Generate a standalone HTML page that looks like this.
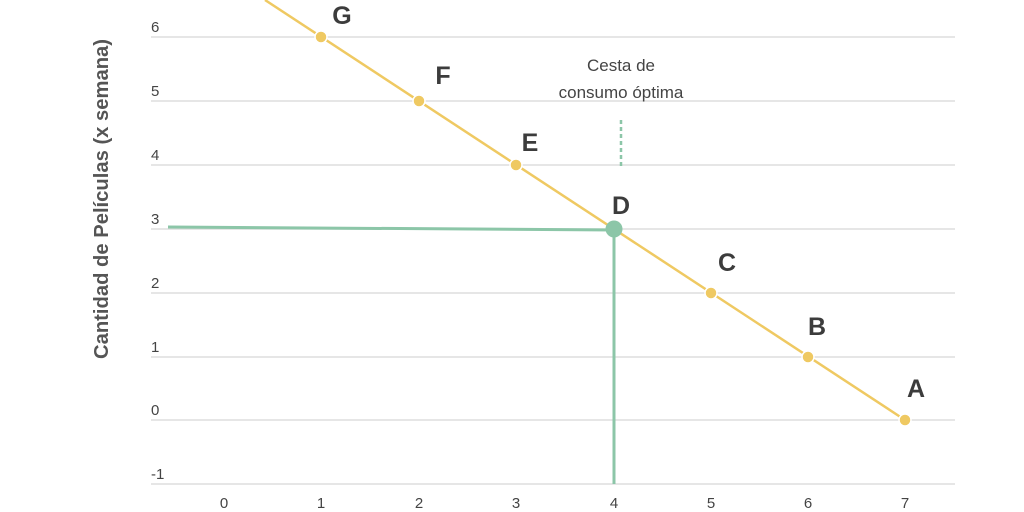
<!DOCTYPE html>
<html><head><meta charset="utf-8"><style>
body{margin:0;background:#fff;}
svg{display:block;font-family:"Liberation Sans",sans-serif;}
</style></head><body>
<svg width="1024" height="512" viewBox="0 0 1024 512">
<g stroke="#dddddd" stroke-width="1.5">
<line x1="151" y1="37" x2="955" y2="37"/>
<line x1="151" y1="101" x2="955" y2="101"/>
<line x1="151" y1="165" x2="955" y2="165"/>
<line x1="151" y1="229" x2="955" y2="229"/>
<line x1="151" y1="293" x2="955" y2="293"/>
<line x1="151" y1="357" x2="955" y2="357"/>
<line x1="151" y1="420" x2="955" y2="420"/>
<line x1="151" y1="484" x2="955" y2="484"/>
</g>
<g fill="#444" font-size="15">
<text x="151" y="32">6</text>
<text x="151" y="96">5</text>
<text x="151" y="160">4</text>
<text x="151" y="224">3</text>
<text x="151" y="288">2</text>
<text x="151" y="352">1</text>
<text x="151" y="415">0</text>
<text x="151" y="479">-1</text>
</g>
<g fill="#444" font-size="15" text-anchor="middle">
<text x="224" y="508">0</text><text x="321" y="508">1</text><text x="419" y="508">2</text><text x="516" y="508">3</text>
<text x="614" y="508">4</text><text x="711" y="508">5</text><text x="808" y="508">6</text><text x="905" y="508">7</text>
</g>
<text transform="translate(108,199) rotate(-90)" text-anchor="middle" font-size="20" font-weight="bold" fill="#555" textLength="320" lengthAdjust="spacingAndGlyphs">Cantidad de Películas (x semana)</text>
<line x1="265" y1="0" x2="905" y2="420" stroke="#efc962" stroke-width="2.5"/>
<line x1="168" y1="227" x2="614" y2="230" stroke="#8cc6a8" stroke-width="3"/>
<line x1="614" y1="230" x2="614" y2="484" stroke="#8cc6a8" stroke-width="3"/>
<line x1="621" y1="120" x2="621" y2="166" stroke="#8cc6a8" stroke-width="2.5" stroke-dasharray="4,3"/>
<g fill="#efc962" stroke="#fff" stroke-width="1.5">
<circle cx="321" cy="37" r="6"/><circle cx="419" cy="101" r="6"/><circle cx="516" cy="165" r="6"/>
<circle cx="711" cy="293" r="6"/><circle cx="808" cy="357" r="6"/><circle cx="905" cy="420" r="6"/>
</g>
<circle cx="614" cy="229" r="8.5" fill="#8cc6a8"/>
<g fill="#3c3c3c" font-size="25" font-weight="bold" text-anchor="middle">
<text x="342" y="24">G</text><text x="443" y="84">F</text><text x="530" y="151">E</text>
<text x="621" y="214">D</text><text x="727" y="271">C</text><text x="817" y="335">B</text><text x="916" y="397">A</text>
</g>
<g fill="#444" font-size="17" text-anchor="middle">
<text x="621" y="71">Cesta de</text><text x="621" y="98">consumo óptima</text>
</g>
</svg>
</body></html>
